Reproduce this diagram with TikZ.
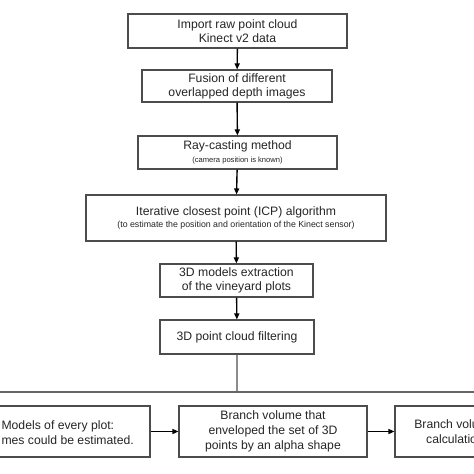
\documentclass[tikz,border=0pt]{standalone}
\usepackage{fontspec}
\setmainfont{Liberation Sans}
\usetikzlibrary{arrows.meta}
\tikzset{
  flowbox/.style={draw=black!70, line width=1.1pt, fill=white, align=center, inner sep=0pt,
    font=\fontsize{12.2}{14.3}\selectfont, text=black!85},
  flowarrow/.style={draw=black, line width=1.4pt, -{Triangle[length=6pt,width=5pt]}},
  graylink/.style={draw=black!45, line width=1.1pt},
  smalltext/.style={font=\fontsize{7.6}{9}\selectfont}
}
\begin{document}
\begin{tikzpicture}[x=1pt,y=-1pt]
\useasboundingbox (0,0) rectangle (474,474);
\clip (0,0) rectangle (474,474);
\fill[white] (0,0) rectangle (474,474);

\node[flowbox, minimum width=219pt, minimum height=34pt] (b1) at (237.5,31)
  {Import raw point cloud\\Kinect v2 data};
\node[flowbox, minimum width=190pt, minimum height=32pt] (b2) at (237,86)
  {Fusion of different\\overlapped depth images};
\node[flowbox, minimum width=199pt, minimum height=33pt] (b3) at (237.5,152.5)
  {Ray-casting method\\[-2pt]{\fontsize{7.6}{9}\selectfont (camera position is known)}};
\node[flowbox, minimum width=300pt, minimum height=46pt] (b4) at (236,218)
  {Iterative closest point (ICP) algorithm\\[-2pt]{\fontsize{8.8}{10}\selectfont (to estimate the position and orientation of the Kinect sensor)}};
\node[flowbox, minimum width=153pt, minimum height=33pt] (b5) at (236.5,280.5)
  {3D models extraction\\of the vineyard plots};
\node[flowbox, minimum width=154pt, minimum height=34pt] (b6) at (237,337)
  {3D point cloud filtering};

\coordinate (split) at (237,392);
\coordinate (hl) at (-10,392);
\coordinate (hr) at (484,392);

\node[flowbox, minimum width=200pt, minimum height=51pt] (ba) at (50,431.5) {};
\node[flowbox, anchor=west, align=left, draw=none, fill=none] (ta) at (1,432.5)
  {Models of every plot:\\mes could be estimated.};
\node[flowbox, minimum width=188pt, minimum height=51pt, font=\fontsize{12.2}{15}\selectfont] (bb) at (273,431.5)
  {Branch volume that\\enveloped the set of 3D\\points by an alpha shape};
\node[flowbox, minimum width=120pt, minimum height=51pt] (bc) at (455,431.5)
  {Branch volume\\calculation};

\draw[flowarrow] (b1) -- (b2);
\draw[flowarrow] (b2) -- (b3);
\draw[flowarrow] (b3) -- (b4);
\draw[flowarrow] (b4) -- (b5);
\draw[flowarrow] (b5) -- (b6);
\draw[graylink] (b6) -- (split);
\draw[draw=black!60, line width=1.1pt] (hl) -- (hr);
\draw[flowarrow] (ba) -- (bb);
\draw[flowarrow] (bb) -- (bc);
\end{tikzpicture}
\end{document}
